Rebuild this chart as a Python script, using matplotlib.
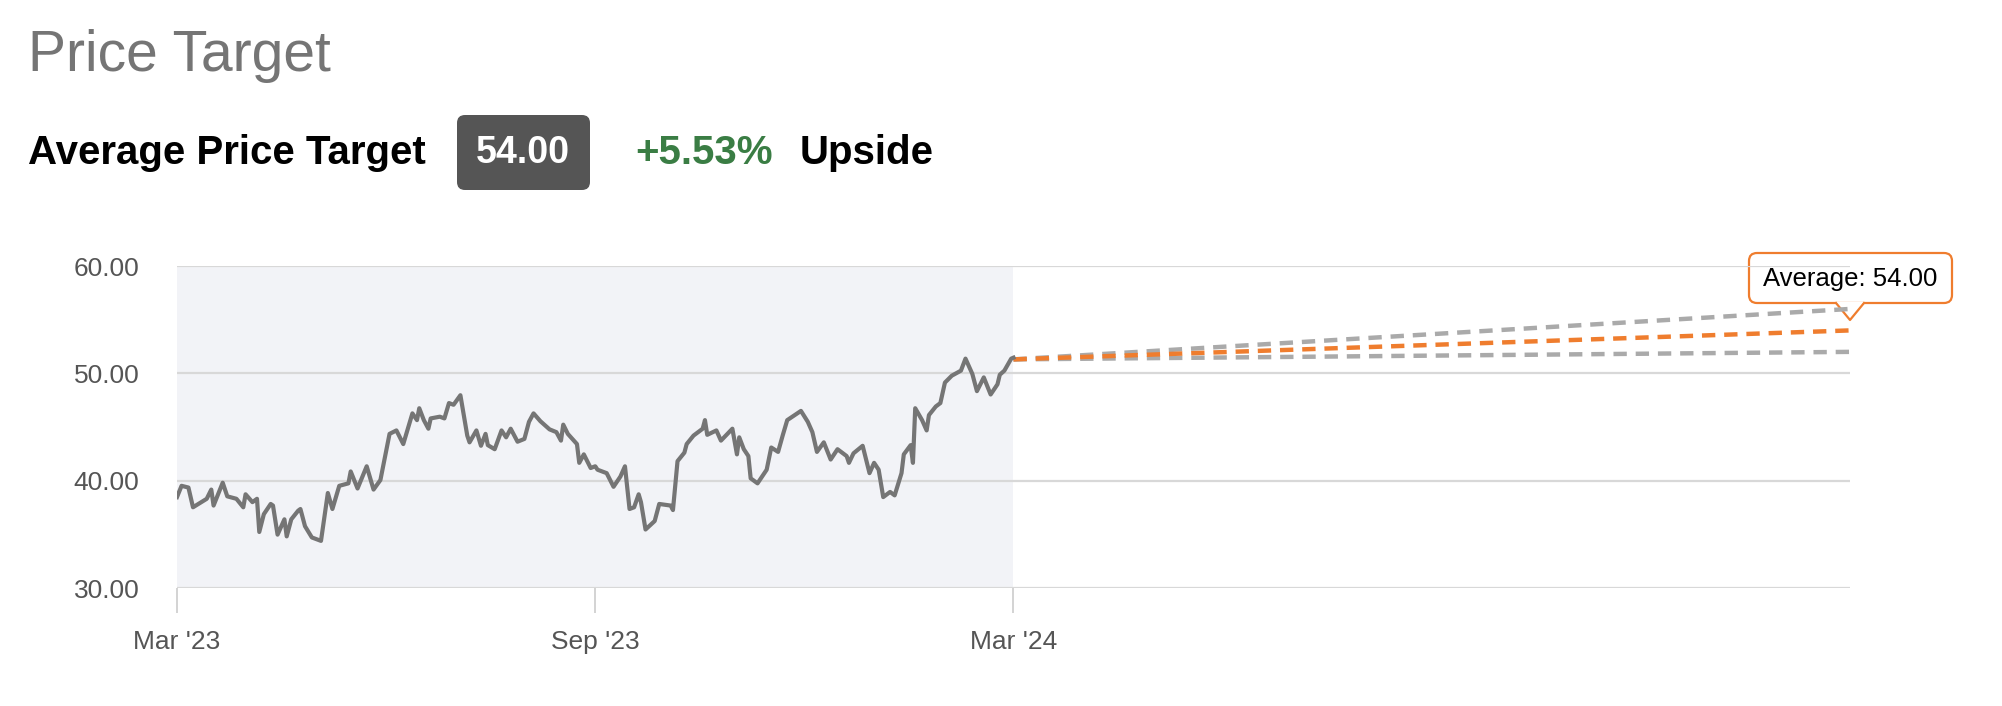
import matplotlib
matplotlib.use("Agg")
import matplotlib.pyplot as plt
from matplotlib.patches import FancyBboxPatch, Rectangle, Polygon

plt.rcParams["font.family"] = ["Liberation Sans", "DejaVu Sans"]

# days since Mar '23 and closing price
days = [0,2,5,7,13,15,16,20,22,26,29,30,33,35,36,38,41,42,44,47,48,50,53,54,56,59,63,66,68,71,
        75,76,79,83,86,89,93,96,99,103,105,106,108,110,111,115,117,119,121,124,127,128,131,133,135,136,
        139,142,144,146,149,152,154,156,159,163,166,168,169,171,175,176,178,181,183,184,188,191,194,196,
        198,200,202,203,205,209,211,216,217,219,222,223,226,230,231,232,236,238,243,245,246,248,250,251,
        254,258,260,263,265,267,273,276,278,280,283,286,289,293,294,296,300,303,305,307,309,312,314,317,
        318,321,322,323,326,328,329,332,334,336,339,343,345,348,350,353,356,359,360,362,365,366]
prices = [38.47,39.52,39.36,37.52,38.31,39.17,37.68,39.81,38.54,38.31,37.52,38.73,38.0,38.31,35.22,
          36.88,37.83,37.68,34.97,36.4,34.81,36.4,37.2,37.36,35.76,34.71,34.39,38.85,37.36,39.52,39.75,
          40.86,39.27,41.34,39.17,40.06,44.36,44.68,43.41,46.27,45.64,46.75,45.64,44.84,45.8,45.96,45.8,
          47.23,47.07,47.96,44.2,43.57,44.68,43.25,44.36,43.31,42.93,44.68,44.04,44.84,43.63,43.89,45.48,
          46.27,45.54,44.78,44.52,43.73,45.22,44.36,43.41,41.66,42.45,41.18,41.34,41.02,40.7,39.43,40.38,
          41.34,37.36,37.52,38.73,38.0,35.45,36.24,37.83,37.68,37.26,41.82,42.61,43.41,44.2,44.84,45.64,
          44.27,44.68,43.73,44.84,42.45,44.04,42.93,42.29,40.22,39.75,41.02,43.09,42.68,44.2,45.64,46.5,
          45.48,44.52,42.68,43.57,41.97,42.93,42.29,41.66,42.55,43.25,40.7,41.66,41.02,38.47,38.95,38.63,
          40.7,42.45,43.31,41.66,46.75,45.64,44.68,46.11,46.91,47.23,49.14,49.78,50.25,51.37,49.94,48.34,
          49.62,48.03,48.98,49.87,50.25,51.37,51.46]
n = min(len(days), len(prices))
days, prices = days[:n], prices[:n]

fc_days = [366, 732]
fc_high = [51.3, 56.0]
fc_avg = [51.3, 54.0]
fc_low = [51.3, 52.0]
tick_days = [0, 183, 366]
tick_labels = ["Mar '23", "Sep '23", "Mar '24"]
yticks = [30, 40, 50, 60]

W, H = 2002, 706
fig = plt.figure(figsize=(W / 100, H / 100), dpi=100)
fig.patch.set_facecolor("white")

# overlay in pixel coords for header text
ov = fig.add_axes([0, 0, 1, 1]); ov.set_xlim(0, W); ov.set_ylim(H, 0); ov.axis("off")
ov.text(28, 56, "Price Target", color="#757575", fontsize=41, va="center")
ov.text(28, 153, "Average Price Target", color="black", fontsize=29, fontweight="bold", va="center")
ov.add_patch(FancyBboxPatch((461, 119), 125, 67, boxstyle="round,pad=4,rounding_size=8", fc="#555555", ec="none"))
ov.text(523, 153, "54.00", color="white", fontsize=27, fontweight="bold", va="center", ha="center")
ov.text(635, 153, "+5.53%", color="#3a7d44", fontsize=29, fontweight="bold", va="center")
ov.text(800, 153, "Upside", color="black", fontsize=29, fontweight="bold", va="center")

ax = fig.add_axes([177 / W, (H - 588) / H, 1673 / W, 322 / H])
ax.set_xlim(0, 732); ax.set_ylim(30, 60)
ax.add_patch(Rectangle((0, 30), 366, 30, color="#f2f3f7", zorder=0, lw=0))
for y in yticks:
    ax.axhline(y, color="#d8d8d8", lw=1.6, zorder=1)
ax.plot(days, prices, color="#757575", lw=3, zorder=3)
ax.plot(fc_days, fc_high, color="#aaaaaa", lw=3.2, ls=(0, (3, 2)), zorder=2)
ax.plot(fc_days, fc_low, color="#aaaaaa", lw=3.2, ls=(0, (3, 2)), zorder=2)
ax.plot(fc_days, fc_avg, color="#ef7d2e", lw=3.2, ls=(0, (3, 2)), zorder=2)
for s in ax.spines.values(): s.set_visible(False)
ax.set_yticks(yticks); ax.set_yticklabels([f"{v:.2f}" for v in yticks])
ax.set_xticks(tick_days); ax.set_xticklabels(tick_labels)
ax.tick_params(axis="y", length=0, pad=27, labelsize=19, labelcolor="#555555")
ax.tick_params(axis="x", length=18, width=1.2, color="#cccccc", pad=12, labelsize=19, labelcolor="#555555")
ax.set_facecolor("none")

# tooltip
ov.add_patch(FancyBboxPatch((1749, 253), 203, 50, boxstyle="round,pad=0,rounding_size=8",
                            fc="white", ec="#ef7d2e", lw=1.6, zorder=5))
ov.add_patch(Polygon([(1836, 302), (1850, 320), (1864, 302)], closed=True, fc="white", ec="none", zorder=6))
ov.plot([1836, 1850, 1864], [303, 320, 303], color="#ef7d2e", lw=1.6, zorder=7)
ov.text(1850, 279, "Average: 54.00", fontsize=18.5, ha="center", va="center", color="black", zorder=8)

fig.savefig("out.png", dpi=100, facecolor="white")
